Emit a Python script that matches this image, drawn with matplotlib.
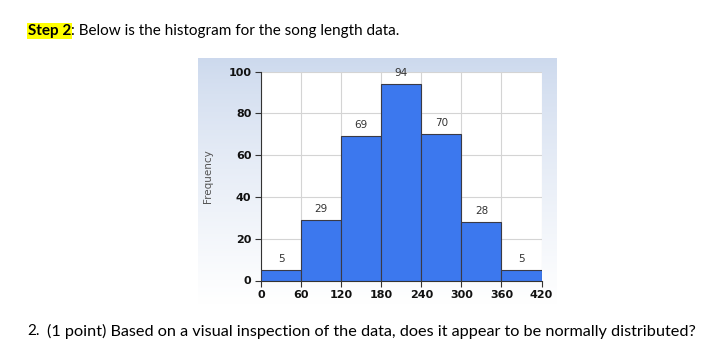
import numpy as np
import matplotlib.pyplot as plt

# histogram data
bin_edges = [0, 60, 120, 180, 240, 300, 360, 420]
counts = [5, 29, 69, 94, 70, 28, 5]
y_ticks = [0, 20, 40, 60, 80, 100]

W, H = 704, 355
fig = plt.figure(figsize=(W / 100, H / 100), dpi=100)
fig.patch.set_facecolor('white')


def box(x0, y0, x1, y1):
    # pixel box (top-left origin) -> figure fraction
    return [x0 / W, 1 - y1 / H, (x1 - x0) / W, (y1 - y0) / H]


# gradient panel behind the chart
bg = fig.add_axes(box(198, 58, 557, 304))
grad = np.linspace(0, 1, 256).reshape(-1, 1)
top = np.array([0.80, 0.85, 0.93])
bot = np.array([1.0, 1.0, 1.0])
img = top + (bot - top) * grad[..., None] ** 0.8
bg.imshow(img.reshape(256, 1, 3), aspect='auto', extent=[0, 1, 0, 1])
bg.axis('off')

ax = fig.add_axes(box(261, 71.5, 541.5, 280.5))
ax.set_facecolor('white')
widths = np.diff(bin_edges)
ax.bar(bin_edges[:-1], counts, width=widths, align='edge',
       color='#3c78ee', edgecolor='#3a3a45', linewidth=0.8, zorder=3)
for left, w, c in zip(bin_edges[:-1], widths, counts):
    ax.text(left + w / 2, c + 3, str(c), ha='center', va='bottom',
            fontsize=7.5, color='#333333', zorder=4)

ax.set_xlim(0, 420)
ax.set_ylim(0, 100)
ax.set_xticks(bin_edges)
ax.set_yticks(y_ticks)
ax.grid(True, color='#d4d4d4', linewidth=0.8, zorder=0)
for s in ['top', 'right']:
    ax.spines[s].set_visible(False)
for s in ['left', 'bottom']:
    ax.spines[s].set_color('#333333')
    ax.spines[s].set_linewidth(0.8)
ax.tick_params(length=4, width=0.8, color='#333333', labelsize=8,
               labelcolor='#111111', pad=3)
for lab in ax.get_xticklabels() + ax.get_yticklabels():
    lab.set_fontweight('bold')
ax.set_ylabel('Frequency', fontsize=7.5, color='#555555', labelpad=11)

# texts above and below
fs = 11
t1 = fig.text(28 / W, 1 - 31 / H, 'Step 2', fontsize=fs, fontweight='bold',
              family='Lato', va='center', ha='left',
              bbox=dict(facecolor='#ffff00', edgecolor='none', pad=0.5))
fig.canvas.draw()
ext = t1.get_window_extent()
fig.text(ext.x1 / W, 1 - 31 / H, ': Below is the histogram for the song length data.',
         fontsize=fs, family='Lato', va='center', ha='left')
fig.text(27 / W, 1 - 331 / H, '2.', fontsize=11, family='Lato',
         va='center', ha='left')
fig.text(47 / W, 1 - 331 / H, '(1 point) Based on a visual inspection of the data, '
         'does it appear to be normally distributed?',
         fontsize=11.7, family='Lato', va='center', ha='left')

fig.savefig('out.png', dpi=100)
